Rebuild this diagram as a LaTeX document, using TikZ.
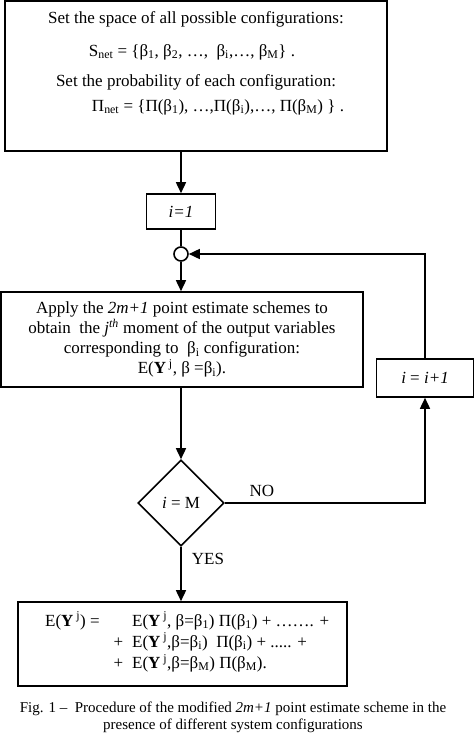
\documentclass[tikz,border=0pt]{standalone}
\usepackage{fontspec}
\setmainfont{Liberation Serif}
\usetikzlibrary{shapes.geometric,arrows.meta}
\tikzset{
  box/.style={draw,line width=1.6pt,inner sep=0pt},
  flow/.style={line width=1.6pt,-{Triangle[width=10pt,length=11pt]}},
  plain/.style={line width=1.6pt},
}
\newcommand{\lo}[1]{\textsubscript{#1}}
\newcommand{\EY}{E(\textbf{Y}\,\textsuperscript{j}}

\begin{document}
\begin{tikzpicture}[x=1pt,y=-1pt,font=\fontsize{17}{20}\selectfont]
    \useasboundingbox (0,0) rectangle (474,734);
    \node[box,minimum width=382pt,minimum height=150pt] (config) at (196,75.8) {};
    \node (space) at (196,19) {Set the space of all possible configurations:};
    \node (snet)  at (192,52) {S\lo{net} = \{β\lo{1}, β\lo{2}, …,~ β\lo{i},…, β\lo{M}\} .};
    \node (prob)  at (196,82) {Set the probability of each configuration:};
    \node (pinet) at (218,107) {Π\lo{net} = \{Π(β\lo{1}), …,Π(β\lo{i}),…, Π(β\lo{M}) \} .};
    \node[box,minimum width=69pt,minimum height=35pt] (init) at (181,211.5) {\textit{i=1}};
    \node[draw,circle,line width=1.6pt,minimum size=14pt,inner sep=0pt] (join) at (181,254) {};
    \node[box,align=center,minimum width=362pt,minimum height=95pt] (apply) at (182,339.5)
      {Apply the \textit{2m+1} point estimate schemes to\\
       obtain~ the \textit{j\textsuperscript{th}} moment of the output variables\\
       corresponding to~ β\lo{i} configuration:\\
       \EY, β =β\lo{i}).};
    \node[box,minimum width=97pt,minimum height=38pt] (incr) at (425,378) {\textit{i} = \textit{i+1}};
    \node[box,diamond,aspect=1,minimum size=86pt] (check) at (181,503) {\textit{i} = M};
    \node (no)  at (262,491) {NO};
    \node (yes) at (208,559) {YES};
    \node[box,minimum width=329pt,minimum height=84pt] (sum) at (182.5,644) {};
    \node[inner sep=0pt,anchor=base west] (sumtext) at (45,626)
      {\begin{tabular}[t]{@{}p{87pt}@{}l@{}}
        \EY) = & \EY, β=β\lo{1}) Π(β\lo{1}) + ……. +\\[1pt]
        \hfill+\hspace{9pt} & \EY,β=β\lo{i})~ Π(β\lo{i}) + ..... +\\[1pt]
        \hfill+\hspace{9pt} & \EY,β=β\lo{M}) Π(β\lo{M}).
       \end{tabular}};
    \node[font=\fontsize{15}{17}\selectfont,align=center] (caption) at (233,717.5)
      {Fig. 1 –~ Procedure of the modified \textit{2m+1} point estimate scheme in the\\
       presence of different system configurations};
    \draw[flow] (config.south -| init) -- (init);
    \draw[plain] (init) -- (join);
    \draw[flow] (join) -- (join |- apply.north);
    \draw[flow] (apply.south -| check) -- (check);
    \draw[flow] (check) -- (check |- sum.north);
    \draw[flow] (check.east) -- (check.east -| incr) -- (incr);
    \draw[flow] (incr) |- (join);
\end{tikzpicture}
\end{document}
